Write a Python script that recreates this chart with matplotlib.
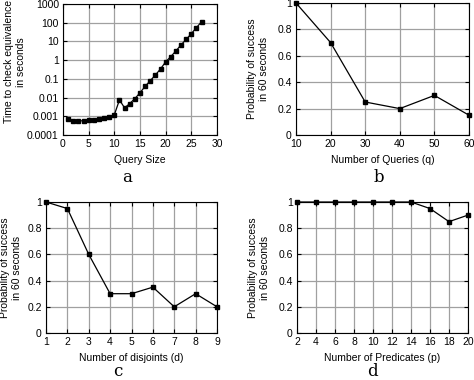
import matplotlib
matplotlib.use('Agg')
import matplotlib.pyplot as plt
import numpy as np

# panel a: query size vs time (log)
query_size = list(range(1, 28))
check_time = [0.0007, 0.00055, 0.00056, 0.00058, 0.0006, 0.00065, 0.0007, 0.0008, 0.0009, 0.0012,
              0.0075, 0.0028, 0.0048, 0.0088, 0.018, 0.04, 0.08, 0.16, 0.34, 0.81,
              1.55, 3.1, 6.6, 12.8, 26, 55, 113]

# panel b: number of queries
num_queries = [10, 20, 30, 40, 50, 60]
prob_queries = [1.0, 0.7, 0.25, 0.2, 0.3, 0.15]

# panel c: number of disjoints
num_disjoints = [1, 2, 3, 4, 5, 6, 7, 8, 9]
prob_disjoints = [1.0, 0.95, 0.6, 0.3, 0.3, 0.35, 0.2, 0.3, 0.2]

# panel d: number of predicates
num_predicates = [2, 4, 6, 8, 10, 12, 14, 16, 18, 20]
prob_predicates = [1, 1, 1, 1, 1, 1, 1, 0.95, 0.85, 0.9]

plt.rcParams['font.family'] = ['Liberation Sans', 'DejaVu Sans']
W, H = 474, 380
fig = plt.figure(figsize=(W / 100, H / 100), dpi=100)
FS = 7.5


def make_ax(l, r, t, b):
    return fig.add_axes([l / W, 1 - b / H, (r - l) / W, (b - t) / H])


def style(ax):
    ax.grid(True, color='#a0a0a0', linewidth=0.9)
    ax.set_axisbelow(True)
    ax.tick_params(direction='in', labelsize=FS, length=3, top=True, right=True, pad=3)
    for s in ax.spines.values():
        s.set_linewidth(0.8)


def draw(ax, x, y):
    ax.plot(x, y, color='black', linewidth=0.9, marker='s', markersize=3.5, clip_on=False, zorder=3)


prob_ticks = [0, 0.2, 0.4, 0.6, 0.8, 1]
prob_labels = ['0', '0.2', '0.4', '0.6', '0.8', '1']

# a
ax = make_ax(63, 217, 4, 135)
draw(ax, query_size, check_time)
ax.set_yscale('log')
ax.set_xlim(0, 30)
ax.set_ylim(0.0001, 1000)
ax.set_xticks([0, 5, 10, 15, 20, 25, 30])
ax.set_yticks([0.0001, 0.001, 0.01, 0.1, 1, 10, 100, 1000])
ax.set_yticklabels(['0.0001', '0.001', '0.01', '0.1', '1', '10', '100', '1000'])
ax.minorticks_off()
style(ax)
ax.set_xlabel('Query Size', fontsize=FS, labelpad=4)
ax.set_ylabel('Time to check equivalence\nin seconds', fontsize=FS, labelpad=1, y=0.56)

# b
ax = make_ax(296, 469, 3, 135)
draw(ax, num_queries, prob_queries)
ax.set_xlim(10, 60)
ax.set_ylim(0, 1)
ax.set_xticks(num_queries)
ax.set_yticks(prob_ticks)
ax.set_yticklabels(prob_labels)
style(ax)
ax.set_xlabel('Number of Queries (q)', fontsize=FS, labelpad=4)
ax.set_ylabel('Probability of success\nin 60 seconds', fontsize=FS, labelpad=6)

# c
ax = make_ax(46, 217, 202, 333)
draw(ax, num_disjoints, prob_disjoints)
ax.set_xlim(1, 9)
ax.set_ylim(0, 1)
ax.set_xticks(num_disjoints)
ax.set_yticks(prob_ticks)
ax.set_yticklabels(prob_labels)
style(ax)
ax.set_xlabel('Number of disjoints (d)', fontsize=FS, labelpad=4)
ax.set_ylabel('Probability of success\nin 60 seconds', fontsize=FS, labelpad=4)

# d
ax = make_ax(297, 468, 202, 333)
draw(ax, num_predicates, prob_predicates)
ax.set_xlim(2, 20)
ax.set_ylim(0, 1)
ax.set_xticks(num_predicates)
ax.set_yticks(prob_ticks)
ax.set_yticklabels(prob_labels)
style(ax)
ax.set_xlabel('Number of Predicates (p)', fontsize=FS, labelpad=4)
ax.set_ylabel('Probability of success\nin 60 seconds', fontsize=FS, labelpad=6)

# panel letters
for lbl, px, py in [('a', 127, 178), ('b', 379, 178), ('c', 118, 372), ('d', 372, 372)]:
    fig.text(px / W, 1 - py / H, lbl, fontsize=12, family='DejaVu Serif', ha='center', va='center')

fig.savefig('out.png', dpi=100)
